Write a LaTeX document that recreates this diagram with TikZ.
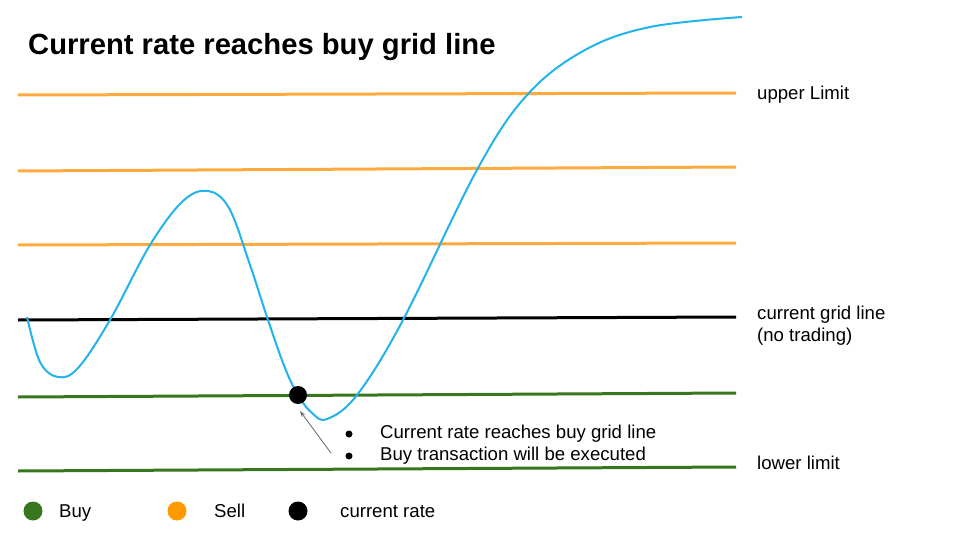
\documentclass[tikz,border=0pt]{standalone}
\usepackage{fontspec}
\setmainfont{Liberation Sans}
\usetikzlibrary{arrows.meta}
\definecolor{sellc}{HTML}{FFAB40}
\definecolor{selldot}{HTML}{FF9900}
\definecolor{buyc}{HTML}{38761D}
\definecolor{ratec}{HTML}{22B2EC}
\tikzset{
  gridline/.style={line width=3pt},
  lbl/.style={anchor=base west, inner sep=0pt, font=\fontsize{18.6pt}{22pt}\selectfont},
  dotmark/.style={circle, inner sep=0pt, minimum size=#1},
}
\begin{document}
\begin{tikzpicture}[x=1pt,y=-1pt]
\useasboundingbox (0,0) rectangle (960,540);
% title
\node[anchor=base west, inner sep=0pt, font=\fontsize{29.2pt}{33pt}\selectfont\bfseries] (title) at (28,55) {Current rate reaches buy grid line};
% grid lines
\coordinate (s1a) at (18,95);  \coordinate (s1b) at (736,93);
\coordinate (s2a) at (18,171); \coordinate (s2b) at (736,167);
\coordinate (s3a) at (18,245); \coordinate (s3b) at (736,243);
\coordinate (ca) at (18,320);  \coordinate (cb) at (736,317);
\coordinate (b1a) at (18,397); \coordinate (b1b) at (736,393);
\coordinate (b2a) at (18,471); \coordinate (b2b) at (736,467);
\draw[gridline, sellc] (s1a) -- (s1b);
\draw[gridline, sellc] (s2a) -- (s2b);
\draw[gridline, sellc] (s3a) -- (s3b);
\draw[gridline, black] (ca) -- (cb);
\draw[gridline, buyc] (b1a) -- (b1b);
\draw[gridline, buyc] (b2a) -- (b2b);
% rate curve
\draw[ratec, line width=2pt] plot[smooth, tension=0.6] coordinates {
  (27,317) (40,362) (58,377) (78,368) (110,320) (150,245) (183,201) (208,191) (229,208) (249,262) (268,320) (285,368) (298,395) (312,413) (327,419) (357,395) (403,320) (478,168) (528,94) (585,50) (650,27) (742,17)};
% current rate dot
\node[dotmark=18pt, fill=black] (cur) at (298,395) {};
% arrow
\coordinate (atail) at (331,453);
\draw[-{Stealth[length=6pt,width=4pt]}, gray!80!black, line width=0.8pt] (atail) -- (300,411);
% bullets
\node[dotmark=7pt, fill=black] (bu1) at (349,434) {};
\node[dotmark=7pt, fill=black] (bu2) at (349,456) {};
\node[lbl] (t1) at (380,438) {Current rate reaches buy grid line};
\node[lbl] (t2) at (380,460.5) {Buy transaction will be executed};
% right labels
\node[lbl] (up) at (757,100) {upper Limit};
\node[lbl] (cg) at (757,319) {current grid line};
\node[lbl] (nt) at (757,341.5) {(no trading)};
\node[lbl] (lo) at (757,469) {lower limit};
% legend
\node[dotmark=19pt, fill=buyc] (lbuy) at (33,511) {};
\node[lbl] (tbuy) at (59,517) {Buy};
\node[dotmark=19pt, fill=selldot] (lsell) at (177,511) {};
\node[lbl] (tsell) at (214,517) {Sell};
\node[dotmark=19pt, fill=black] (lcur) at (298,511) {};
\node[lbl] (tcur) at (340,517) {current rate};
\end{tikzpicture}
\end{document}
